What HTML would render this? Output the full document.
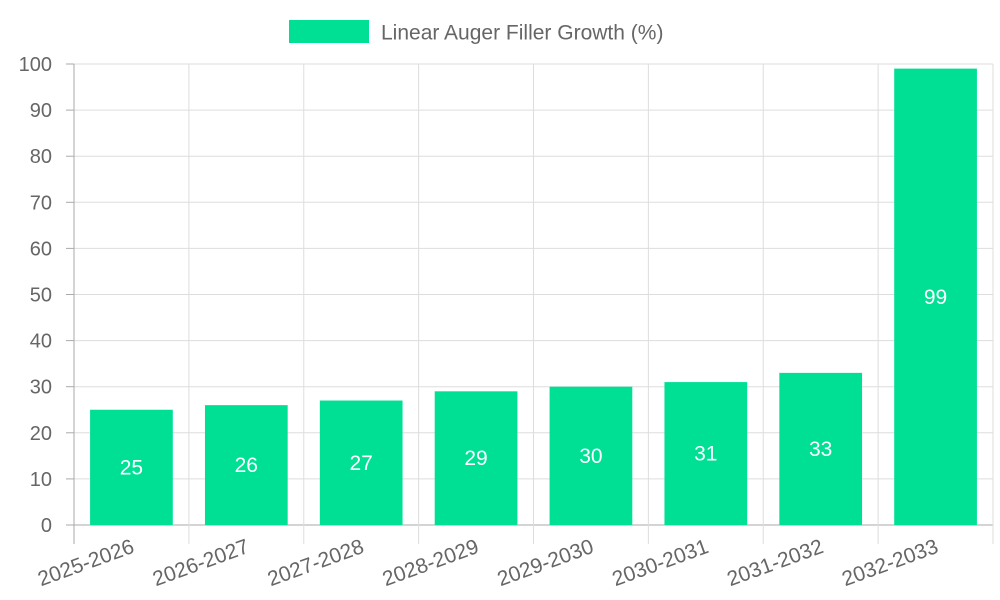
<!DOCTYPE html>
<html><head><meta charset="utf-8"><style>
html,body{margin:0;padding:0;background:#fff;}
svg{display:block;font-family:"Liberation Sans",sans-serif;}
</style></head><body>
<svg id="chart" width="1000" height="600">
<g>
<rect x="289" y="20" width="80" height="23" fill="#00e094"/>
<text x="381" y="39.5" font-size="21" fill="#666">Linear Auger Filler Growth (%)</text>
</g>
<g id="grid"></g>
<g id="bars"></g>
<g id="axes"></g>
</svg>
<script>
const categories=["2025-2026","2026-2027","2027-2028","2028-2029","2029-2030","2030-2031","2031-2032","2032-2033"];
const values=[25,26,27,29,30,31,33,99];
const yTicks=[0,10,20,30,40,50,60,70,80,90,100];
const L=74,R=993,T=64,B=525,yMax=100;
const NS="http://www.w3.org/2000/svg";
const bw=(R-L)/categories.length;
const xs=i=>L+bw*i;
const ys=v=>B-(v/yMax)*(B-T);
function mk(tag,attrs,parent,txt){const e=document.createElementNS(NS,tag);for(const k in attrs)e.setAttribute(k,attrs[k]);if(txt!==undefined)e.textContent=txt;parent.appendChild(e);return e;}
const grid=document.getElementById('grid'),bars=document.getElementById('bars'),axes=document.getElementById('axes');
yTicks.forEach(t=>{const y=ys(t);
 const g=mk('line',{x1:L,x2:R,y1:y,y2:y,stroke:t===0?'#aaa':'#ddd','stroke-width':1},grid);
 
 
 const tk=mk('line',{x1:66,x2:L,y1:y,y2:y,stroke:'#aaa'},axes);
 
 
 const lb=mk('text',{x:52,y:y+7,'text-anchor':'end','font-size':20,fill:'#666'},axes,String(t));
 
 
});
for(let i=0;i<=categories.length;i++){const x=xs(i);
 const g=mk('line',{x1:x,x2:x,y1:T,y2:544,stroke:i===0?'#aaa':'#ddd'},grid);
 
 
}
categories.forEach((c,i)=>{const cx=xs(i)+bw/2;const v=values[i];
 const w=bw*0.72;
 const r=mk('rect',{x:cx-w/2,y:ys(v),width:w,height:B-ys(v),fill:'#00e094'},bars);
 
 
 const vl=mk('text',{x:cx,y:(ys(v)+B)/2+7,'text-anchor':'middle','font-size':21,fill:'#fff'},bars,String(v));
 
 
 const xl=mk('text',{x:cx+4,y:552,'text-anchor':'end','font-size':21,fill:'#666',transform:`rotate(-20 ${cx+4} 552)`},axes,c);
 
 
});
</script>
</body></html>
